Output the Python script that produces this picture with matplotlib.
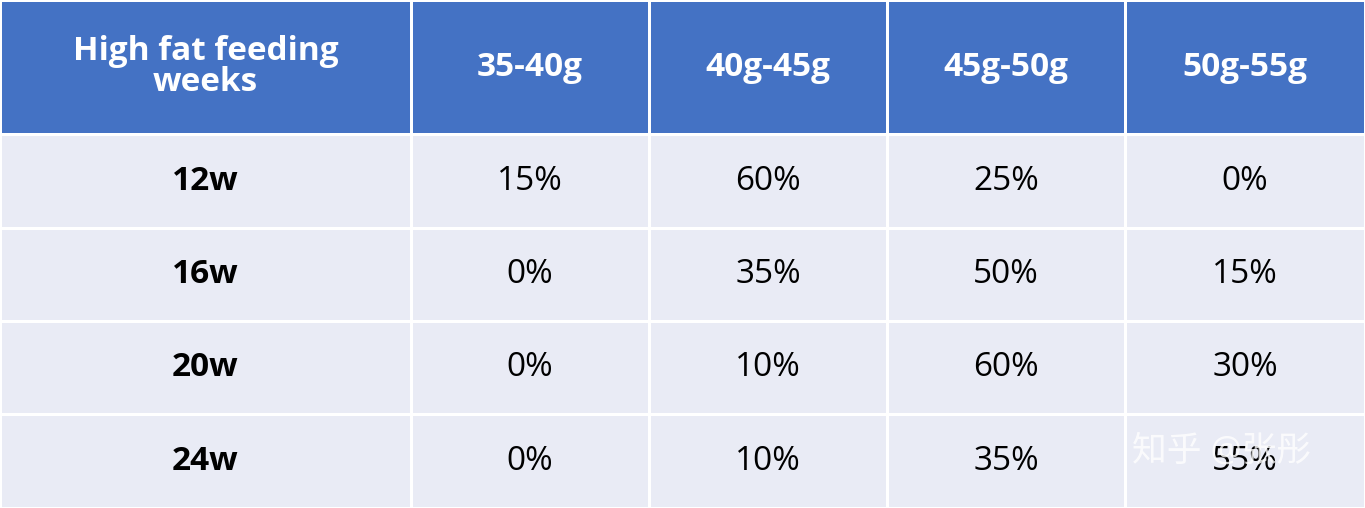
import matplotlib.pyplot as plt
from matplotlib.patches import Rectangle

plt.rcParams['font.family'] = ['Open Sans', 'Noto Sans CJK SC', 'DejaVu Sans']

header = ["High fat feeding\nweeks", "35-40g", "40g-45g", "45g-50g", "50g-55g"]
weeks = ["12w", "16w", "20w", "24w"]
values = [
    ["15%", "60%", "25%", "0%"],
    ["0%", "35%", "50%", "15%"],
    ["0%", "10%", "60%", "30%"],
    ["0%", "10%", "35%", "55%"],
]

col_edges = [0, 411, 649, 887, 1125, 1365]
row_edges = [0, 134, 228, 321, 414, 508]
gap = 3
head_color = "#4472C4"
body_color = "#E9EBF5"

fig = plt.figure(figsize=(13.65, 5.08), dpi=100)
ax = fig.add_axes([0, 0, 1, 1])
ax.set_xlim(0, 1365)
ax.set_ylim(508, 0)
ax.axis("off")

for r in range(5):
    for c in range(5):
        x0, x1 = col_edges[c], col_edges[c + 1]
        y0, y1 = row_edges[r], row_edges[r + 1]
        color = head_color if r == 0 else body_color
        ax.add_patch(Rectangle((x0 + gap / 2, y0 + gap / 2), x1 - x0 - gap, y1 - y0 - gap,
                               facecolor=color, edgecolor="none"))
        cx, cy = (x0 + x1) / 2, (y0 + y1) / 2
        if r == 0:
            ax.text(cx, cy, header[c], ha="center", va="center", color="white",
                    fontsize=24, fontweight="bold", linespacing=0.95)
        elif c == 0:
            ax.text(cx, cy, weeks[r - 1], ha="center", va="center", color="black",
                    fontsize=24, fontweight="bold")
        else:
            ax.text(cx, cy, values[r - 1][c - 1], ha="center", va="center", color="black",
                    fontsize=24)

# watermark
ax.text(1222, 452, "知乎 @张彤", ha="center", va="center", color="white",
        fontsize=25, alpha=0.8)

fig.savefig("out.png", dpi=100)
